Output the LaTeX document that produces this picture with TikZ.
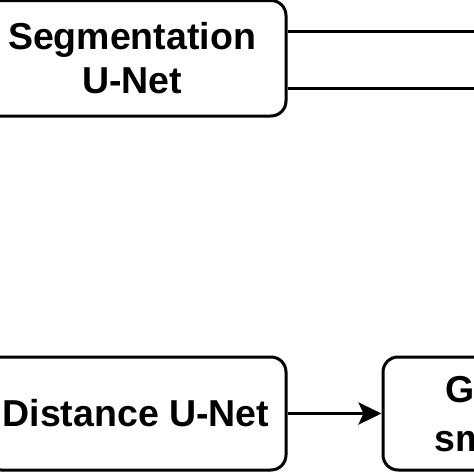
\documentclass[tikz,border=0pt]{standalone}
\usepackage{fontspec}
\setmainfont{Liberation Sans}
\usetikzlibrary{arrows.meta}

\tikzset{
  stage/.style={draw, line width=3pt, rounded corners=15pt, align=center,
    font=\fontsize{37.5}{44}\selectfont\bfseries, inner sep=0pt},
  link/.style={line width=3pt},
  flow/.style={line width=3pt, -{Stealth[length=23pt,width=22pt,inset=5pt]}}
}

\begin{document}
\begin{tikzpicture}[x=1pt,y=-1pt]
        % Fix the visible window and cut everything outside it
        \useasboundingbox (0,0) rectangle (474,474);
        \clip (0,0) rectangle (474,474);

        % The segmentation network, cut at the left and top
        \node[stage, minimum width=308pt, minimum height=115.5pt, text depth=-6.5pt] (seg) at (132,58.25) {Segmentation\\U-Net};

        % Its two outputs leave to the right
        \coordinate (segoutA) at (490,31);
        \coordinate (segoutB) at (490,88);
        \draw[link] (seg.east |- segoutA) -- (segoutA);
        \draw[link] (seg.east |- segoutB) -- (segoutB);

        % The distance network and the smoothing step after it
        \node[stage, minimum width=300pt, minimum height=113pt] (dist) at (136,413.5) {Distance U-Net};
        \node[stage, minimum width=294pt, minimum height=113pt, text depth=-1pt,
          font=\fontsize{37.5}{49}\selectfont\bfseries] (smooth) at (530,413.5) {Gaussian\\smoothing};

        % Arrow from the distance network into the smoothing step
        \draw[flow] (dist.east) -- (smooth.west);

    \end{tikzpicture}
\end{document}
